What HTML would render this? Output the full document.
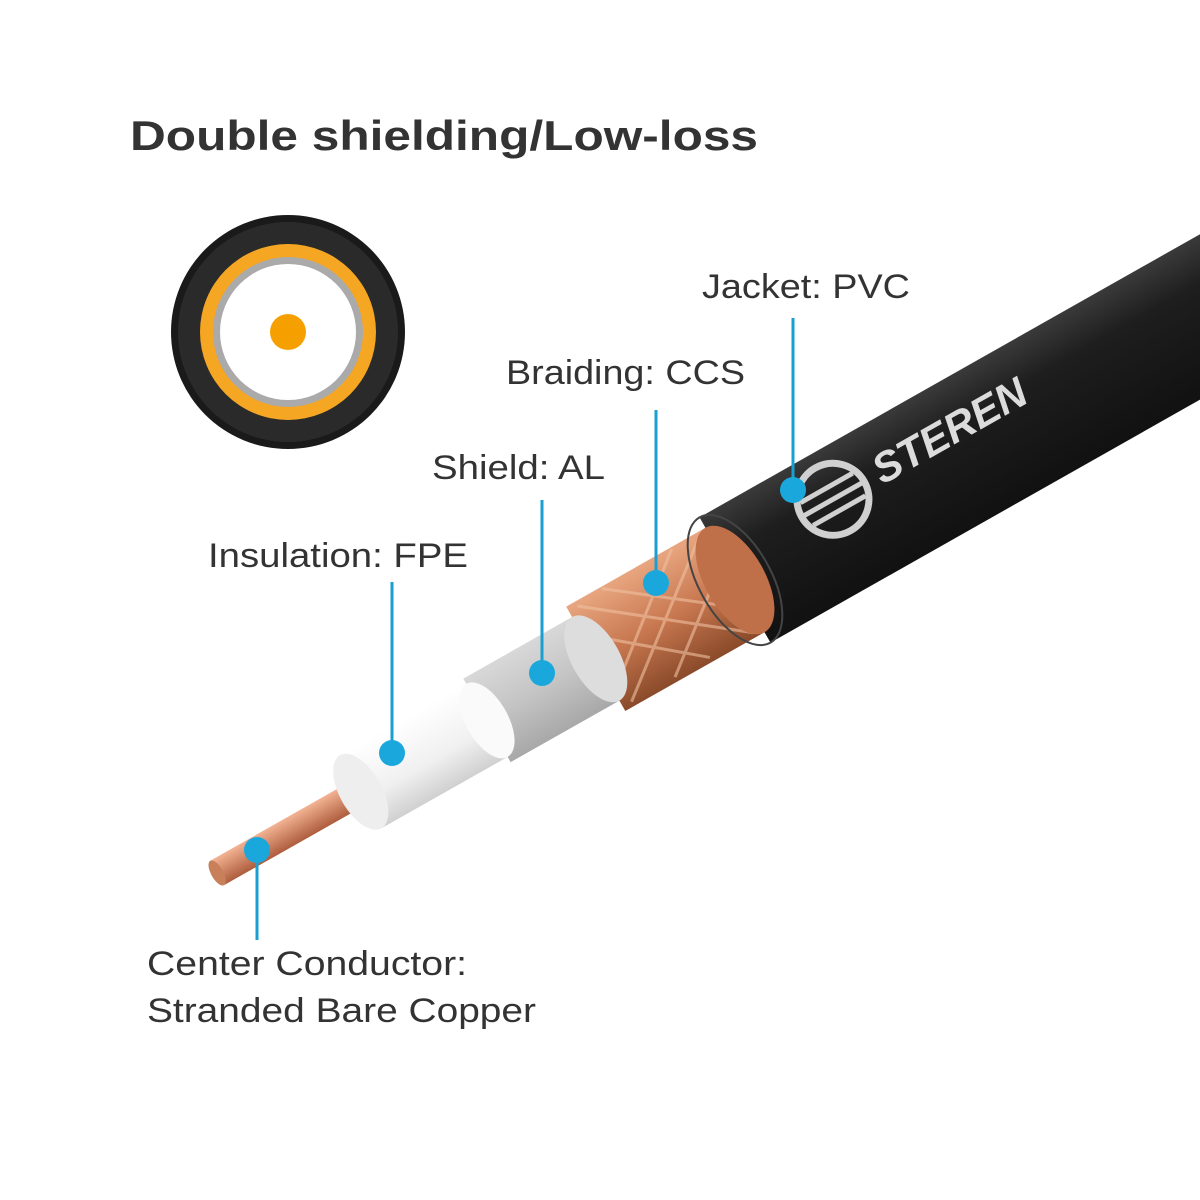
<!DOCTYPE html>
<html><head><meta charset="utf-8"><style>
body{margin:0;background:#fff;}
svg{display:block}
text{font-family:"Liberation Sans",sans-serif;fill:#333;}
</style></head><body>
<svg width="1200" height="1200" viewBox="0 0 1200 1200">
<defs>
<linearGradient id="jk" x1="0" y1="-72" x2="0" y2="72" gradientUnits="userSpaceOnUse">
<stop offset="0" stop-color="#3a3a3a"/><stop offset="0.3" stop-color="#1e1e1e"/><stop offset="1" stop-color="#111"/></linearGradient>
<linearGradient id="br" x1="0" y1="-60" x2="0" y2="60" gradientUnits="userSpaceOnUse">
<stop offset="0" stop-color="#e8a680"/><stop offset="0.5" stop-color="#c87850"/><stop offset="1" stop-color="#8a4a2a"/></linearGradient>
<linearGradient id="sh" x1="0" y1="-48" x2="0" y2="48" gradientUnits="userSpaceOnUse">
<stop offset="0" stop-color="#d8d8d8"/><stop offset="0.5" stop-color="#c4c4c4"/><stop offset="1" stop-color="#a8a8a8"/></linearGradient>
<linearGradient id="in" x1="0" y1="-42" x2="0" y2="42" gradientUnits="userSpaceOnUse">
<stop offset="0" stop-color="#fff"/><stop offset="0.6" stop-color="#f0f0f0"/><stop offset="1" stop-color="#d0d0d0"/></linearGradient>
<linearGradient id="cu" x1="0" y1="-13" x2="0" y2="13" gradientUnits="userSpaceOnUse">
<stop offset="0" stop-color="#f0b090"/><stop offset="1" stop-color="#b06040"/></linearGradient>
</defs>
<text x="130" y="150" font-size="42" font-weight="bold" textLength="628" lengthAdjust="spacingAndGlyphs">Double shielding/Low-loss</text>
<circle cx="288" cy="332" r="117" fill="#1a1a1a"/>
<circle cx="288" cy="332" r="110" fill="#2a2a2a"/>
<circle cx="288" cy="332" r="88" fill="#f5a623"/>
<circle cx="288" cy="332" r="75" fill="#aaa"/>
<circle cx="288" cy="332" r="68" fill="#fff"/>
<circle cx="288" cy="332" r="18" fill="#f5a000"/>
<g transform="translate(735,580) rotate(-29.5)">
<rect x="0" y="-72" width="800" height="144" fill="url(#jk)"/>
<rect x="-160" y="-60" width="160" height="120" fill="url(#br)"/>
<path d="M-150 -55 L-10 55 M-120 -58 L-5 30 M-150 -20 L-60 55 M-10 -55 L-150 55 M-40 -58 L-150 30 M-5 -20 L-100 55" stroke="#f0c0a0" stroke-width="3" opacity="0.6"/>
<ellipse cx="0" cy="0" rx="30" ry="60" fill="#c07048"/>
<rect x="-285" y="-48" width="125" height="96" fill="url(#sh)"/>
<ellipse cx="-160" cy="0" rx="24" ry="48" fill="#ddd"/>
<rect x="-430" y="-42" width="145" height="84" fill="url(#in)"/>
<ellipse cx="-285" cy="0" rx="21" ry="42" fill="#fafafa"/>
<rect x="-595" y="-14" width="165" height="28" fill="url(#cu)"/>
<ellipse cx="-430" cy="0" rx="21" ry="42" fill="#eee"/>
<ellipse cx="-595" cy="0" rx="6" ry="14" fill="#c8805a"/>
<ellipse cx="0" cy="0" rx="36" ry="72" fill="none" stroke="#444" stroke-width="2"/>
<text x="175" y="-10" font-size="42" font-weight="bold" font-style="italic" style="fill:#dcdcdc">STEREN</text>
<circle cx="125" cy="-22" r="36" fill="none" stroke="#d0d0d0" stroke-width="7"/>
<path d="M95 -35 H155 M92 -22 H158 M95 -9 H155" stroke="#d0d0d0" stroke-width="5"/>
</g>
<g stroke="#1a9fd0" stroke-width="3">
<line x1="793" y1="318" x2="793" y2="490"/>
<line x1="656" y1="410" x2="656" y2="583"/>
<line x1="542" y1="500" x2="542" y2="673"/>
<line x1="392" y1="582" x2="392" y2="753"/>
<line x1="257" y1="850" x2="257" y2="940"/>
</g>
<g fill="#1aa8dc">
<circle cx="793" cy="490" r="13"/><circle cx="656" cy="583" r="13"/>
<circle cx="542" cy="673" r="13"/><circle cx="392" cy="753" r="13"/>
<circle cx="257" cy="850" r="13"/>
</g>
<g font-size="34">
<text x="702" y="298" textLength="208" lengthAdjust="spacingAndGlyphs">Jacket: PVC</text>
<text x="506" y="384" textLength="239" lengthAdjust="spacingAndGlyphs">Braiding: CCS</text>
<text x="432" y="479" textLength="173" lengthAdjust="spacingAndGlyphs">Shield: AL</text>
<text x="208" y="567" textLength="260" lengthAdjust="spacingAndGlyphs">Insulation: FPE</text>
<text x="147" y="975" textLength="320" lengthAdjust="spacingAndGlyphs">Center Conductor:</text>
<text x="147" y="1022" textLength="389" lengthAdjust="spacingAndGlyphs">Stranded Bare Copper</text>
</g>
</svg>
</body></html>
